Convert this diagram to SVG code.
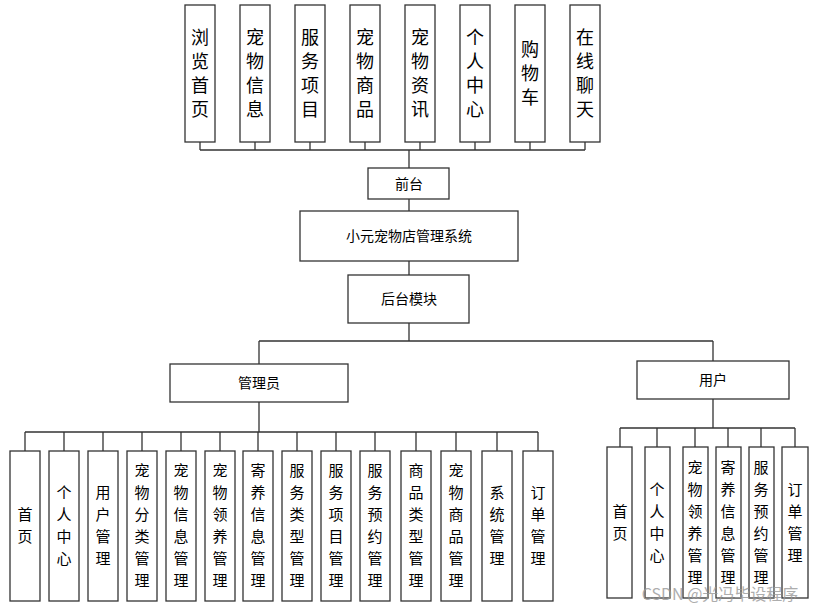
<svg xmlns="http://www.w3.org/2000/svg" width="834" height="613" viewBox="0 0 834 613">
<style>
.b{fill:#fff;stroke:#333;stroke-width:1.3}
.t{font-family:"Noto Sans CJK SC",sans-serif;font-size:18px;text-anchor:middle;fill:#000}
.u{font-family:"Noto Sans CJK SC",sans-serif;font-size:15px;text-anchor:middle;fill:#000}
.h{font-family:"Noto Sans CJK SC",sans-serif;font-size:14px;text-anchor:middle;fill:#000}
.l{stroke:#333;stroke-width:1.3;fill:none}
</style>
<rect width="834" height="613" fill="#fff"/>
<g id="connectors">
<path class="l" d="M200 142V150M255 142V150M310 142V150M365 142V150M420 142V150M475 142V150M530 142V150M585 142V150M200 150H585M409 150V168M409 199V211M409 261V275M409 323V341M259 341H713M259 341V364M713 341V361M259 402V432M25 432H538M25 432V451M64 432V451M103 432V451M142 432V451M181 432V451M220 432V451M258 432V451M297 432V451M336 432V451M375 432V451M416 432V451M456 432V451M497 432V451M538 432V451M713 399V428M620 428H795M620 428V447M657 428V447M695 428V447M728 428V447M761 428V447M795 428V447"/>
</g>
<g id="n1"><rect class="b" x="185" y="5" width="30" height="137"/><text class="t"><tspan x="200" y="44">浏</tspan><tspan x="200" y="68">览</tspan><tspan x="200" y="92">首</tspan><tspan x="200" y="116">页</tspan></text></g>
<g id="n2"><rect class="b" x="240" y="5" width="30" height="137"/><text class="t"><tspan x="255" y="44">宠</tspan><tspan x="255" y="68">物</tspan><tspan x="255" y="92">信</tspan><tspan x="255" y="116">息</tspan></text></g>
<g id="n3"><rect class="b" x="295" y="5" width="30" height="137"/><text class="t"><tspan x="310" y="44">服</tspan><tspan x="310" y="68">务</tspan><tspan x="310" y="92">项</tspan><tspan x="310" y="116">目</tspan></text></g>
<g id="n4"><rect class="b" x="350" y="5" width="30" height="137"/><text class="t"><tspan x="365" y="44">宠</tspan><tspan x="365" y="68">物</tspan><tspan x="365" y="92">商</tspan><tspan x="365" y="116">品</tspan></text></g>
<g id="n5"><rect class="b" x="405" y="5" width="30" height="137"/><text class="t"><tspan x="420" y="44">宠</tspan><tspan x="420" y="68">物</tspan><tspan x="420" y="92">资</tspan><tspan x="420" y="116">讯</tspan></text></g>
<g id="n6"><rect class="b" x="460" y="5" width="30" height="137"/><text class="t"><tspan x="475" y="44">个</tspan><tspan x="475" y="68">人</tspan><tspan x="475" y="92">中</tspan><tspan x="475" y="116">心</tspan></text></g>
<g id="n7"><rect class="b" x="515" y="5" width="30" height="137"/><text class="t"><tspan x="530" y="56">购</tspan><tspan x="530" y="80">物</tspan><tspan x="530" y="104">车</tspan></text></g>
<g id="n8"><rect class="b" x="570" y="5" width="30" height="137"/><text class="t"><tspan x="585" y="44">在</tspan><tspan x="585" y="68">线</tspan><tspan x="585" y="92">聊</tspan><tspan x="585" y="116">天</tspan></text></g>
<g id="qiantai"><rect class="b" x="368" y="168" width="81" height="31"/><text class="h" x="409" y="189">前台</text></g>
<g id="sys"><rect class="b" x="300" y="211" width="218" height="50"/><text class="h" x="409" y="241">小元宠物店管理系统</text></g>
<g id="houtai"><rect class="b" x="348" y="275" width="121" height="48"/><text class="h" x="409" y="304">后台模块</text></g>
<g id="admin"><rect class="b" x="170" y="364" width="178" height="38"/><text class="h" x="259" y="388">管理员</text></g>
<g id="user"><rect class="b" x="637" y="361" width="152" height="38"/><text class="h" x="713" y="385">用户</text></g>
<g id="a1"><rect class="b" x="10" y="451" width="30" height="150"/><text class="u"><tspan x="25" y="520">首</tspan><tspan x="25" y="542">页</tspan></text></g>
<g id="a2"><rect class="b" x="49" y="451" width="30" height="150"/><text class="u"><tspan x="64" y="498">个</tspan><tspan x="64" y="520">人</tspan><tspan x="64" y="542">中</tspan><tspan x="64" y="564">心</tspan></text></g>
<g id="a3"><rect class="b" x="88" y="451" width="30" height="150"/><text class="u"><tspan x="103" y="498">用</tspan><tspan x="103" y="520">户</tspan><tspan x="103" y="542">管</tspan><tspan x="103" y="564">理</tspan></text></g>
<g id="a4"><rect class="b" x="127" y="451" width="30" height="150"/><text class="u"><tspan x="142" y="476">宠</tspan><tspan x="142" y="498">物</tspan><tspan x="142" y="520">分</tspan><tspan x="142" y="542">类</tspan><tspan x="142" y="564">管</tspan><tspan x="142" y="586">理</tspan></text></g>
<g id="a5"><rect class="b" x="166" y="451" width="30" height="150"/><text class="u"><tspan x="181" y="476">宠</tspan><tspan x="181" y="498">物</tspan><tspan x="181" y="520">信</tspan><tspan x="181" y="542">息</tspan><tspan x="181" y="564">管</tspan><tspan x="181" y="586">理</tspan></text></g>
<g id="a6"><rect class="b" x="205" y="451" width="30" height="150"/><text class="u"><tspan x="220" y="476">宠</tspan><tspan x="220" y="498">物</tspan><tspan x="220" y="520">领</tspan><tspan x="220" y="542">养</tspan><tspan x="220" y="564">管</tspan><tspan x="220" y="586">理</tspan></text></g>
<g id="a7"><rect class="b" x="243" y="451" width="30" height="150"/><text class="u"><tspan x="258" y="476">寄</tspan><tspan x="258" y="498">养</tspan><tspan x="258" y="520">信</tspan><tspan x="258" y="542">息</tspan><tspan x="258" y="564">管</tspan><tspan x="258" y="586">理</tspan></text></g>
<g id="a8"><rect class="b" x="282" y="451" width="30" height="150"/><text class="u"><tspan x="297" y="476">服</tspan><tspan x="297" y="498">务</tspan><tspan x="297" y="520">类</tspan><tspan x="297" y="542">型</tspan><tspan x="297" y="564">管</tspan><tspan x="297" y="586">理</tspan></text></g>
<g id="a9"><rect class="b" x="321" y="451" width="30" height="150"/><text class="u"><tspan x="336" y="476">服</tspan><tspan x="336" y="498">务</tspan><tspan x="336" y="520">项</tspan><tspan x="336" y="542">目</tspan><tspan x="336" y="564">管</tspan><tspan x="336" y="586">理</tspan></text></g>
<g id="a10"><rect class="b" x="360" y="451" width="30" height="150"/><text class="u"><tspan x="375" y="476">服</tspan><tspan x="375" y="498">务</tspan><tspan x="375" y="520">预</tspan><tspan x="375" y="542">约</tspan><tspan x="375" y="564">管</tspan><tspan x="375" y="586">理</tspan></text></g>
<g id="a11"><rect class="b" x="401" y="451" width="30" height="150"/><text class="u"><tspan x="416" y="476">商</tspan><tspan x="416" y="498">品</tspan><tspan x="416" y="520">类</tspan><tspan x="416" y="542">型</tspan><tspan x="416" y="564">管</tspan><tspan x="416" y="586">理</tspan></text></g>
<g id="a12"><rect class="b" x="441" y="451" width="30" height="150"/><text class="u"><tspan x="456" y="476">宠</tspan><tspan x="456" y="498">物</tspan><tspan x="456" y="520">商</tspan><tspan x="456" y="542">品</tspan><tspan x="456" y="564">管</tspan><tspan x="456" y="586">理</tspan></text></g>
<g id="a13"><rect class="b" x="482" y="451" width="30" height="150"/><text class="u"><tspan x="497" y="498">系</tspan><tspan x="497" y="520">统</tspan><tspan x="497" y="542">管</tspan><tspan x="497" y="564">理</tspan></text></g>
<g id="a14"><rect class="b" x="523" y="451" width="30" height="150"/><text class="u"><tspan x="538" y="498">订</tspan><tspan x="538" y="520">单</tspan><tspan x="538" y="542">管</tspan><tspan x="538" y="564">理</tspan></text></g>
<g id="u1"><rect class="b" x="607" y="447" width="25" height="151"/><text class="u"><tspan x="620" y="517">首</tspan><tspan x="620" y="539">页</tspan></text></g>
<g id="u2"><rect class="b" x="645" y="447" width="25" height="151"/><text class="u"><tspan x="657" y="495">个</tspan><tspan x="657" y="517">人</tspan><tspan x="657" y="539">中</tspan><tspan x="657" y="561">心</tspan></text></g>
<g id="u3"><rect class="b" x="683" y="447" width="25" height="151"/><text class="u"><tspan x="695" y="473">宠</tspan><tspan x="695" y="495">物</tspan><tspan x="695" y="517">领</tspan><tspan x="695" y="539">养</tspan><tspan x="695" y="561">管</tspan><tspan x="695" y="583">理</tspan></text></g>
<g id="u4"><rect class="b" x="716" y="447" width="25" height="151"/><text class="u"><tspan x="728" y="473">寄</tspan><tspan x="728" y="495">养</tspan><tspan x="728" y="517">信</tspan><tspan x="728" y="539">息</tspan><tspan x="728" y="561">管</tspan><tspan x="728" y="583">理</tspan></text></g>
<g id="u5"><rect class="b" x="749" y="447" width="25" height="151"/><text class="u"><tspan x="761" y="473">服</tspan><tspan x="761" y="495">务</tspan><tspan x="761" y="517">预</tspan><tspan x="761" y="539">约</tspan><tspan x="761" y="561">管</tspan><tspan x="761" y="583">理</tspan></text></g>
<g id="u6"><rect class="b" x="782" y="447" width="26" height="151"/><text class="u"><tspan x="795" y="495">订</tspan><tspan x="795" y="517">单</tspan><tspan x="795" y="539">管</tspan><tspan x="795" y="561">理</tspan></text></g>
<text x="720" y="600" style="font-family:'Noto Sans CJK SC',sans-serif;font-size:16px;fill:#999;opacity:.8" text-anchor="middle">CSDN @光冯毕设程序</text>
</svg>
